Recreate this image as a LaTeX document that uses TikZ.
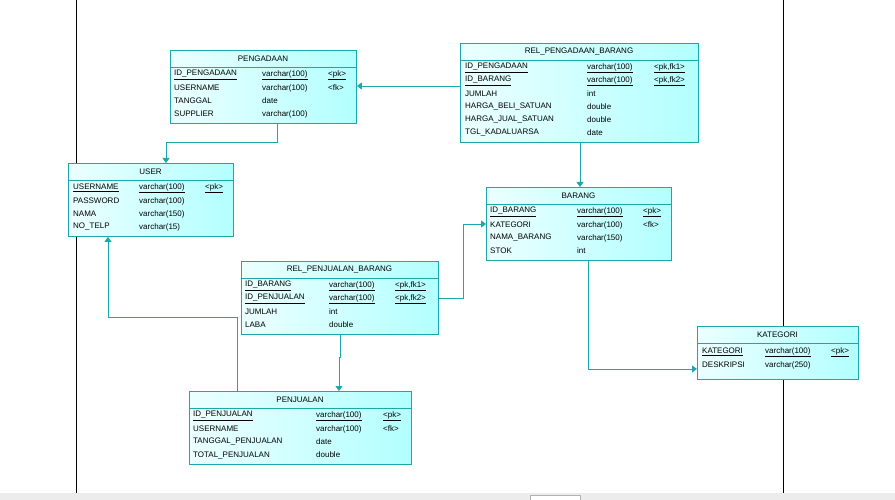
\documentclass[tikz,border=0pt]{standalone}
\usepackage{fontspec}
\setmainfont{Liberation Sans}
\usetikzlibrary{arrows.meta}
\definecolor{tealc}{HTML}{1AA8A8}
\tikzset{
 ent/.style={draw=tealc,line width=0.9pt,left color=white!70!cyan!25,right color=cyan!30,anchor=north west,inner sep=0pt},
 hd/.style={font=\fontsize{8}{9}\selectfont,inner sep=0pt},
 fld/.style={font=\fontsize{8}{9}\selectfont,inner sep=0pt,anchor=west},
 rel/.style={draw=tealc,line width=0.8pt,-{Triangle[width=7pt,length=5pt]}},
 bl/.style={draw=black,line width=0.8pt}
}
% \ent{name}{x1}{y1}{x2}{y2}{header bottom}{title}
\newcommand{\mkent}[7]{%
 \node[ent,minimum width=#4pt-#2pt,minimum height=#5pt-#3pt] (#1) at (#2,#3) {};
 \draw[tealc,line width=0.8pt] (#2,#6) -- (#4,#6);
 \node[hd] (#1-t) at ({(#2+#4)/2},{(#3+#6)/2+0.5}) {#7};}
\newcommand{\fl}[4]{\node[fld] (#1) at (#2,#3) {#4};}
\begin{document}
\begin{tikzpicture}[x=1pt,y=-1pt]
\useasboundingbox (0,0) rectangle (895,500);
\fill[white] (0,0) rectangle (895,500);
\draw[bl] (76,0) -- (76,493);
\draw[bl] (783,0) -- (783,493);
\fill[gray!15] (0,493) rectangle (895,500);
\draw[gray!60,fill=white] (530,495) rectangle (580,500);

% PENGADAAN
\mkent{peng}{170}{50}{356}{123}{67}{PENGADAAN}
\fl{p1}{174}{75}{\underline{ID\_PENGADAAN}}\fl{p1b}{262}{75}{\underline{varchar(100)}}\fl{p1c}{328}{75}{\underline{<pk>}}
\fl{p2}{174}{88}{USERNAME}\fl{p2b}{262}{88}{varchar(100)}\fl{p2c}{328}{88}{<fk>}
\fl{p3}{174}{101}{TANGGAL}\fl{p3b}{262}{101}{date}
\fl{p4}{174}{114}{SUPPLIER}\fl{p4b}{262}{114}{varchar(100)}

% REL_PENGADAAN_BARANG
\mkent{rpb}{460}{43}{698}{142}{60}{REL\_PENGADAAN\_BARANG}
\fl{a1}{465}{68}{\underline{ID\_PENGADAAN}}\fl{a1b}{587}{68}{\underline{varchar(100)}}\fl{a1c}{654}{68}{\underline{<pk,fk1>}}
\fl{a2}{465}{81}{\underline{ID\_BARANG}}\fl{a2b}{587}{81}{\underline{varchar(100)}}\fl{a2c}{654}{81}{\underline{<pk,fk2>}}
\fl{a3}{465}{94}{JUMLAH}\fl{a3b}{587}{94}{int}
\fl{a4}{465}{107}{HARGA\_BELI\_SATUAN}\fl{a4b}{587}{107}{double}
\fl{a5}{465}{120}{HARGA\_JUAL\_SATUAN}\fl{a5b}{587}{120}{double}
\fl{a6}{465}{133}{TGL\_KADALUARSA}\fl{a6b}{587}{133}{date}

% USER
\mkent{usr}{68}{163}{233}{236}{180}{USER}
\fl{u1}{73}{188}{\underline{USERNAME}}\fl{u1b}{139}{188}{\underline{varchar(100)}}\fl{u1c}{205}{188}{\underline{<pk>}}
\fl{u2}{73}{201}{PASSWORD}\fl{u2b}{139}{201}{varchar(100)}
\fl{u3}{73}{214}{NAMA}\fl{u3b}{139}{214}{varchar(150)}
\fl{u4}{73}{227}{NO\_TELP}\fl{u4b}{139}{227}{varchar(15)}

% BARANG
\mkent{brg}{486}{187}{671}{260}{204}{BARANG}
\fl{b1}{490}{212}{\underline{ID\_BARANG}}\fl{b1b}{577}{212}{\underline{varchar(100)}}\fl{b1c}{643}{212}{\underline{<pk>}}
\fl{b2}{490}{225}{KATEGORI}\fl{b2b}{577}{225}{varchar(100)}\fl{b2c}{643}{225}{<fk>}
\fl{b3}{490}{238}{NAMA\_BARANG}\fl{b3b}{577}{238}{varchar(150)}
\fl{b4}{490}{251}{STOK}\fl{b4b}{577}{251}{int}

% REL_PENJUALAN_BARANG
\mkent{rjb}{241}{261}{438}{334}{278}{REL\_PENJUALAN\_BARANG}
\fl{r1}{245}{286}{\underline{ID\_BARANG}}\fl{r1b}{329}{286}{\underline{varchar(100)}}\fl{r1c}{395}{286}{\underline{<pk,fk1>}}
\fl{r2}{245}{299}{\underline{ID\_PENJUALAN}}\fl{r2b}{329}{299}{\underline{varchar(100)}}\fl{r2c}{395}{299}{\underline{<pk,fk2>}}
\fl{r3}{245}{312}{JUMLAH}\fl{r3b}{329}{312}{int}
\fl{r4}{245}{325}{LABA}\fl{r4b}{329}{325}{double}

% KATEGORI
\mkent{kat}{697}{326}{858}{379}{343}{KATEGORI}
\fl{k1}{702}{352}{\underline{KATEGORI}}\fl{k1b}{765}{352}{\underline{varchar(100)}}\fl{k1c}{831}{352}{\underline{<pk>}}
\fl{k2}{702}{365}{DESKRIPSI}\fl{k2b}{765}{365}{varchar(250)}

% PENJUALAN
\mkent{pjl}{189}{391}{411}{464}{408}{PENJUALAN}
\fl{j1}{193}{416}{\underline{ID\_PENJUALAN}}\fl{j1b}{316}{416}{\underline{varchar(100)}}\fl{j1c}{383}{416}{\underline{<pk>}}
\fl{j2}{193}{429}{USERNAME}\fl{j2b}{316}{429}{varchar(100)}\fl{j2c}{383}{429}{<fk>}
\fl{j3}{193}{442}{TANGGAL\_PENJUALAN}\fl{j3b}{316}{442}{date}
\fl{j4}{193}{455}{TOTAL\_PENJUALAN}\fl{j4b}{316}{455}{double}

% connectors
\draw[rel] (rpb.west |- 0,86) -- (peng.east |- 0,86);
\draw[rel] (peng.south -| 277,0) -- (277,142) -- (166,142) -- (usr.north -| 166,0);
\draw[rel] (rpb.south -| 580,0) -- (brg.north -| 580,0);
\draw[rel] (rjb.east |- 0,298) -- (463,298) -- (463,224) -- (brg.west |- 0,224);
\draw[rel] (pjl.north -| 237,0) -- (237,317) -- (108,317) -- (usr.south -| 108,0);
\draw[rel] (rjb.south -| 340,0) -- (340,357) -- (339,357) -- (pjl.north -| 339,0);
\draw[rel] (brg.south -| 588,0) -- (588,369) -- (kat.west |- 0,369);
\end{tikzpicture}
\end{document}
